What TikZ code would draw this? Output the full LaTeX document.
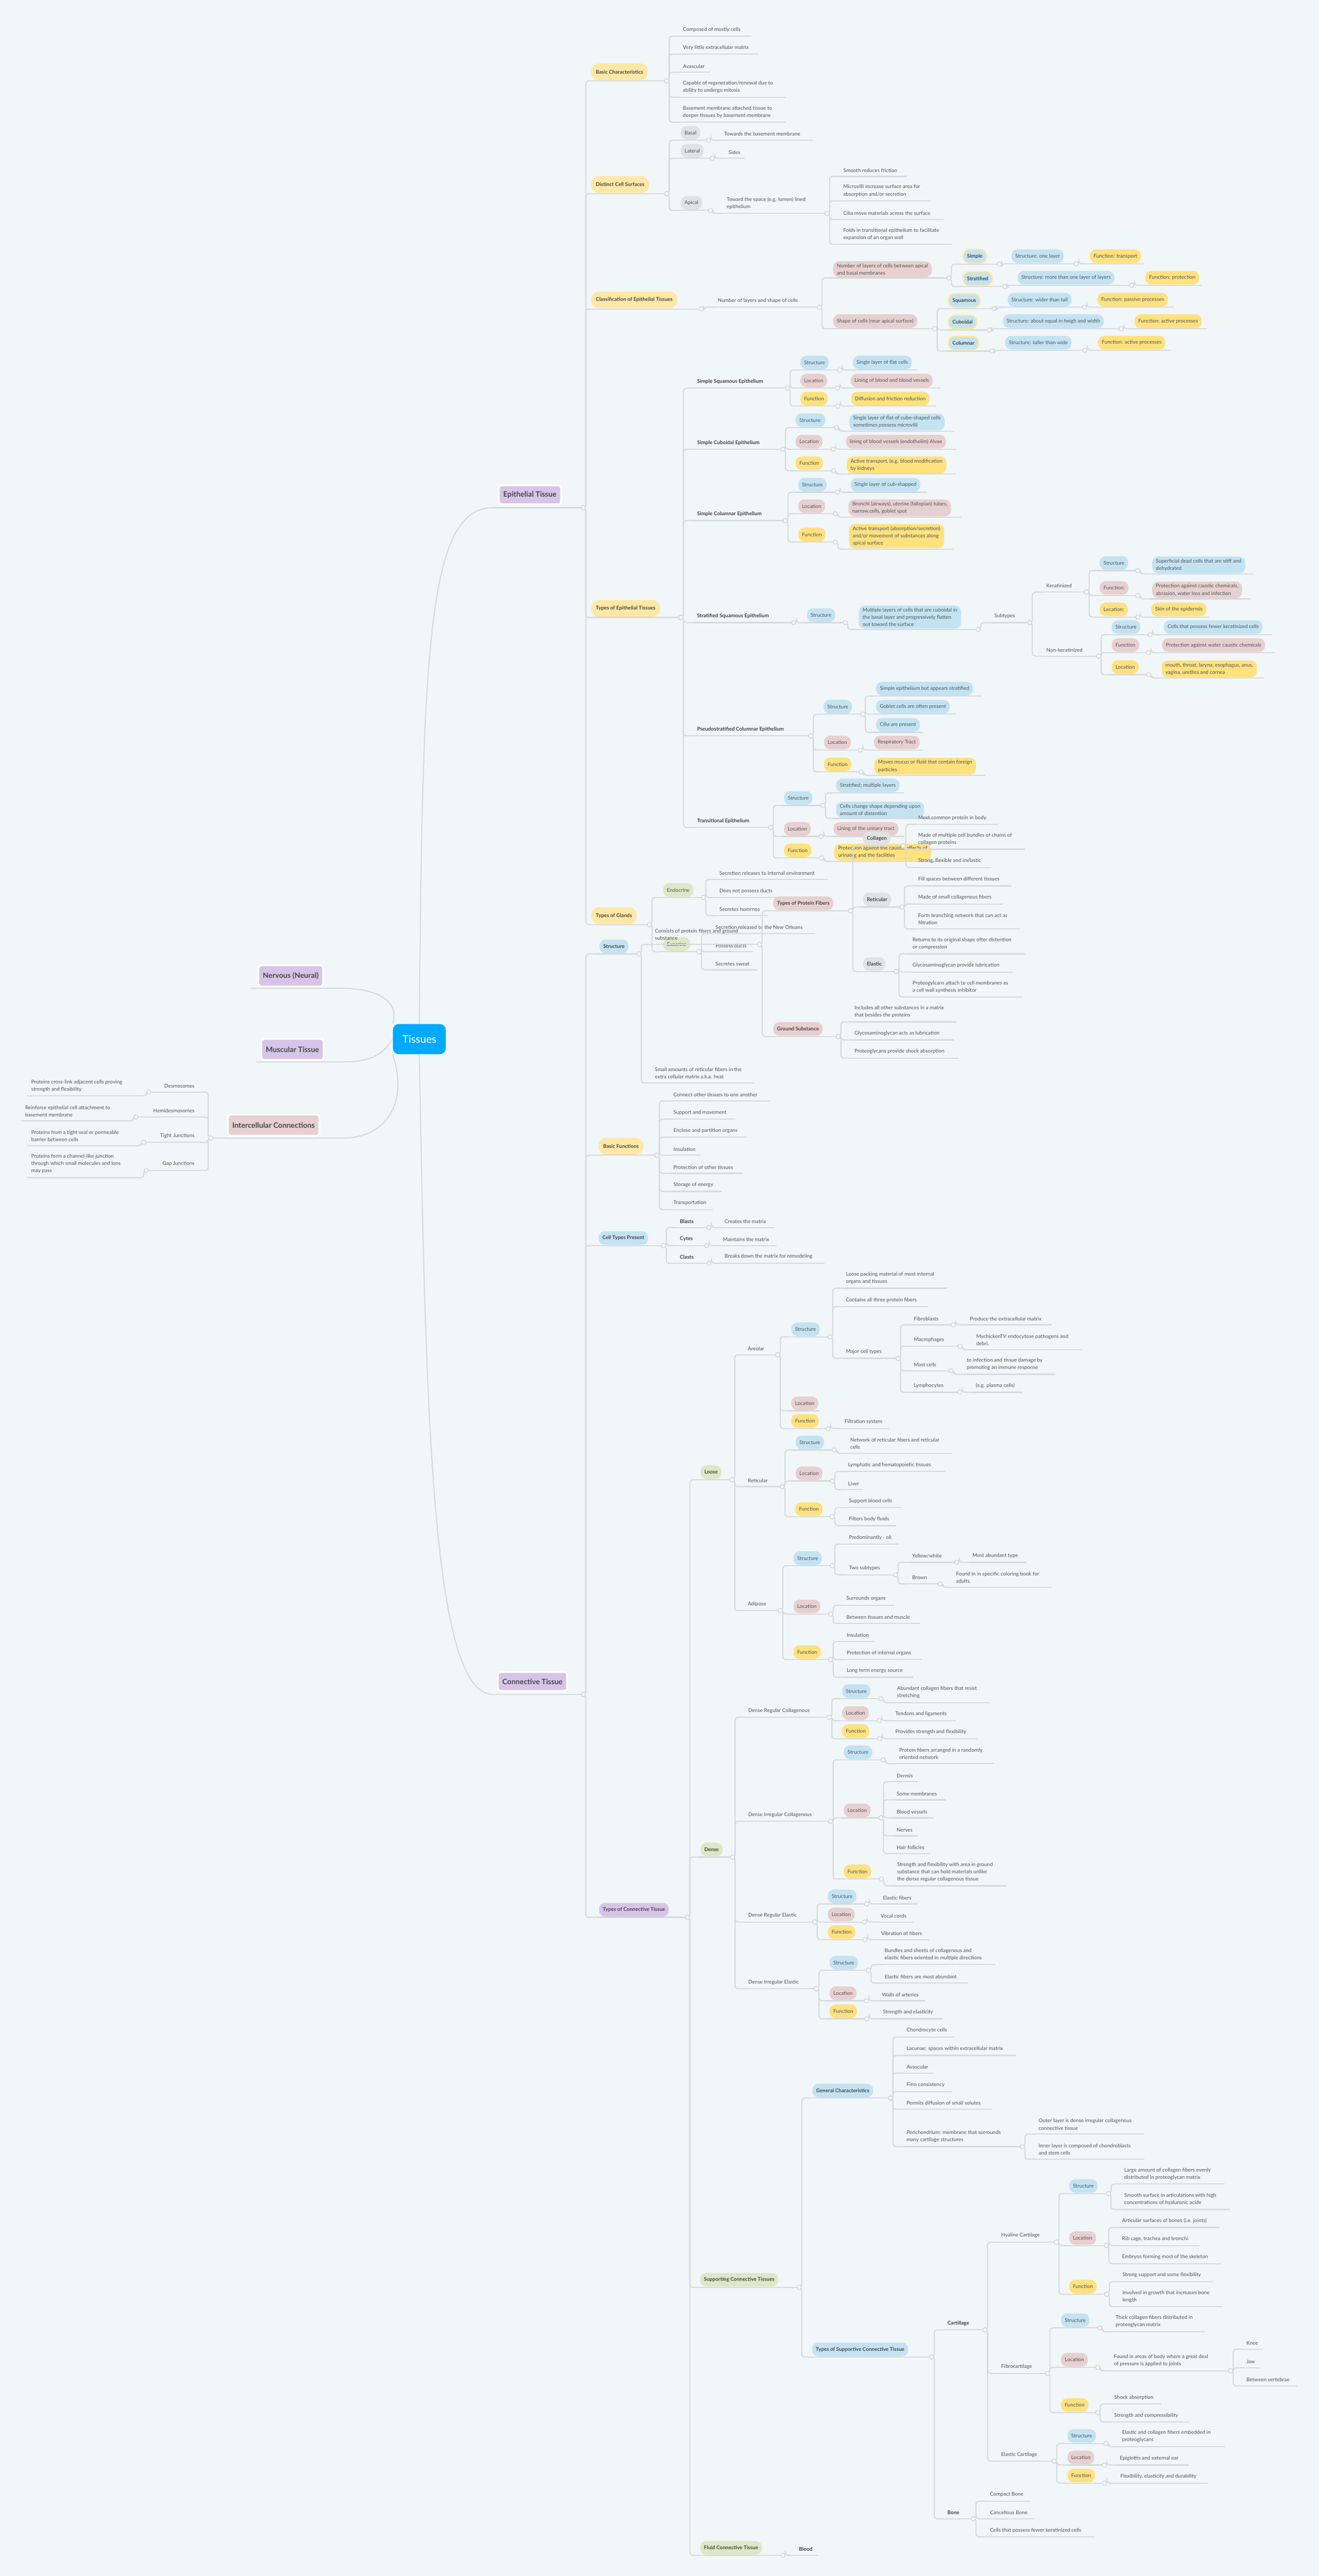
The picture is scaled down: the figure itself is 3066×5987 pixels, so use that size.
\documentclass[tikz,border=0pt]{standalone}
\usepackage{fontspec}
\setmainfont{Lato}
\definecolor{bgc}{HTML}{F1F6F9}
\definecolor{lc}{HTML}{D6DADD}
\definecolor{txc}{HTML}{50555A}
\definecolor{cblue}{HTML}{C4E3F2}
\definecolor{cpink}{HTML}{E8D0D0}
\definecolor{cyel}{HTML}{FFE17E}
\definecolor{ccat}{HTML}{FFE8A6}
\definecolor{cgray}{HTML}{DFE3E6}
\definecolor{cgreen}{HTML}{DCE8C6}
\definecolor{clav}{HTML}{D7C4E8}
\definecolor{cring}{HTML}{FFE89A}
\definecolor{ctis}{HTML}{00AAFF}
\tikzset{
 tx/.style={align=left,text=txc,font=\fontsize{3.4}{4.8}\selectfont,inner sep=0pt,yshift=2.6pt},
 tb/.style={tx,font=\fontsize{3.4}{4.8}\selectfont\bfseries,text=black!75},
 pill/.style={align=left,text=txc,font=\fontsize{3.4}{4.8}\selectfont,inner xsep=2.5pt,inner ysep=1.6pt,minimum height=9pt,rounded corners=4pt,yshift=0.3pt},
 pb/.style={pill,fill=cblue}, pp/.style={pill,fill=cpink}, py/.style={pill,fill=cyel},
 pg/.style={pill,fill=cgray}, pgr/.style={pill,fill=cgreen},
 pbold/.style={font=\fontsize{3.4}{4.8}\selectfont\bfseries,text=black!72},
 pbb/.style={pb,pbold}, ppb/.style={pp,pbold}, pgb/.style={pg,pbold}, pgrb/.style={pgr,pbold},
 pbs/.style={pb,pbold,draw=cring,line width=0.9pt},
 pyc/.style={pill,pbold,fill=ccat,minimum height=11pt,rounded corners=5pt,inner xsep=3pt},
 plb/.style={pill,pbold,fill=clav},
 big/.style={fill=clav,draw=white,line width=1.2pt,rounded corners=2pt,font=\fontsize{4.9}{6}\selectfont\bfseries,text=black!72,inner xsep=3pt,minimum height=12.5pt},
 uline/.style={draw=lc,line width=0.75pt},
 conn/.style={draw=lc,line width=0.75pt,rounded corners=2pt},
 dotst/.style={circle,inner sep=0pt,minimum size=2.8pt,fill=white,draw=lc,line width=0.6pt}
}
\newcommand\nd[7]{%
 \coordinate (#1-s) at (#3-6,#4);
 \coordinate (#1-e) at (#5,#4);
 \draw[uline] (#1-s) -- (#1-e);
 \node[#2,anchor=south west] (#1) at (#3,#4) {#6};
 \ifx\relax#7\relax\else \draw[conn] (#7-e) -- ++(6,0) |- (#1-s); \node[dotst] at (#7-e) {};\fi}
\newcommand\lnd[7]{%
 \node[tx,anchor=south east] (#1) at (453,#2) {#4};
 \coordinate (#1-s) at (466,#2); \coordinate (#1-e) at (#3,#2);
 \draw[uline] (#1-e) -- (#1-s);
 \draw[conn] (ic-e) -- ++(-6,0) |- (#1-s);
 \node[tx,anchor=south west] (#1x) at (#7,#5) {#6};
 \draw[conn] (#1-e) -- ++(-6,0) |- (310,#5) -- (#7-9,#5);
 \node[dotst] at (#1-e) {};}
\begin{document}
\begin{tikzpicture}[x=0.1mm,y=-0.1mm]
\fill[bgc] (0,0) rectangle (3066,5987);
\useasboundingbox (0,0) rectangle (3066,5987);
% ---- roots
\node[fill=ctis,rounded corners=4pt,minimum width=35pt,minimum height=20pt,text=white,font=\fontsize{7}{8}\selectfont] (tis) at (975,2415) {Tissues};
\node[big] (epi) at (1232,1150) {Epithelial Tissue};
\coordinate (epi-s) at (1146,1180); \coordinate (epi-e) at (1356,1180);
\draw[uline] (epi-s) -- (epi-e);
\node[big] (cnt) at (1238,3908) {Connective Tissue};
\coordinate (cnt-s) at (1146,3938); \coordinate (cnt-e) at (1356,3938);
\draw[uline] (cnt-s) -- (cnt-e);
\draw[conn] (tis.north) .. controls (982,1500) and (995,1180) .. (epi-s);
\draw[conn] (tis.south) .. controls (990,3300) and (1005,3938) .. (cnt-s);
\node[big,minimum height=14pt] (nv) at (676,2268) {Nervous (Neural)};
\node[big,minimum height=14pt] (mu) at (680,2439) {Muscular Tissue};
\node[big,minimum height=14pt,fill=cpink] (ic) at (636,2615) {Intercellular Connections};
\coordinate (nv-s) at (583,2297); \coordinate (mu-s) at (595,2468); \coordinate (ic-e) at (490,2645);
\draw[conn] (nv-s) -- (790,2297) .. controls (880,2297) and (930,2330) .. (tis.north west);
\draw[conn] (mu-s) -- (790,2468) .. controls (860,2468) and (890,2452) .. (tis.west);
\draw[conn] (ic-e) -- (790,2645) .. controls (900,2645) and (950,2560) .. (tis.south west);
\lnd{dsm}{2538}{346}{Desmosomes}{2547}{Proteins cross-link adjacent cells proving\\strength and flexibility}{72}
\lnd{hds}{2596}{316}{Hemidesmosomes}{2605}{Reinforce epithelial cell attachment to\\basement membrane}{58}
\lnd{tj}{2655}{334}{Tight Junctions}{2663}{Proteins from a tight seal or permeable\\barrier between cells}{72}
\lnd{gj}{2720}{340}{Gap Junctions}{2737}{Proteins form a channel-like junction\\through which small molecules and ions\\may pass}{72}
\node[dotst] at (ic-e) {};
% ---- Epithelial
\nd{bc}{pyc}{1374}{188}{1550}{Basic Characteristics}{epi}
\nd{bc1}{tx}{1587}{84}{1747}{Composed of mostly cells}{bc}
\nd{bc2}{tx}{1587}{126}{1764}{Very little extracellular matrix}{bc}
\nd{bc3}{tx}{1587}{168}{1652}{Avascular}{bc}
\nd{bc4}{tx}{1587}{226}{1827}{Capable of regeneration/renewal due to\\ability to undergo mitosis}{bc}
\nd{bc5}{tx}{1587}{284}{1827}{Basement membrane attached tissue to\\deeper tissues by basement membrane}{bc}
\nd{dc}{pyc}{1374}{450}{1550}{Distinct Cell Surfaces}{epi}
\nd{dc1}{pg}{1582}{326}{1647}{Basal}{dc}
\nd{dc1a}{tx}{1683}{326}{1889}{Towards the basement membrane}{dc1}
\nd{dc2}{pg}{1582}{368}{1656}{Lateral}{dc}
\nd{dc2a}{tx}{1693}{368}{1731}{Sides}{dc2}
\nd{dc3}{pg}{1582}{489}{1652}{Apical}{dc}
\nd{dc3a}{tx}{1689}{496}{1923}{Toward the space (e.g. lumen) lined\\epithelium}{dc3}
\nd{dc3a1}{tx}{1960}{410}{2109}{Smooth reduces friction}{dc3a}
\nd{dc3a2}{tx}{1960}{467}{2165}{Microvilli increase surface area for\\absorption and/or secretion}{dc3a}
\nd{dc3a3}{tx}{1960}{510}{2194}{Cilia move materials across the surface}{dc3a}
\nd{dc3a4}{tx}{1960}{568}{2213}{Folds in transitional epithelium to facilitate\\expansion of an organ wall}{dc3a}
\nd{ce}{pyc}{1374}{718}{1630}{Classification of Epithelial Tissues}{epi}
\nd{ce1}{tx}{1668}{714}{1905}{Number of layers and shape of cells}{ce}
\nd{ce1a}{pp}{1936}{646}{2206}{Number of layers of cells between apical\\and basal membranes}{ce1}
\nd{ce1a1}{pbs}{2238}{614}{2323}{Simple}{ce1a}
\nd{ce1a1a}{pb}{2351}{613}{2502}{Structure: one layer}{ce1a1}
\nd{ce1a1b}{py}{2533}{613}{2660}{Function: transport}{ce1a1a}
\nd{ce1a2}{pbs}{2238}{666}{2336}{Stratified}{ce1a}
\nd{ce1a2a}{pb}{2365}{663}{2631}{Structure: more than one layer of layers}{ce1a2}
\nd{ce1a2b}{py}{2662}{663}{2794}{Function: protection}{ce1a2a}
\nd{ce1b}{pp}{1936}{764}{2173}{Shape of cells (near apical surface)}{ce1}
\nd{ce1b1}{pbs}{2204}{717}{2311}{Squamous}{ce1b}
\nd{ce1b1a}{pb}{2342}{714}{2521}{Structure: wider than tall}{ce1b1}
\nd{ce1b1b}{py}{2551}{714}{2730}{Function: passive processes}{ce1b1a}
\nd{ce1b2}{pbs}{2204}{767}{2300}{Cuboidal}{ce1b}
\nd{ce1b2a}{pb}{2331}{764}{2607}{Structure: about equal in heigh and width}{ce1b2}
\nd{ce1b2b}{py}{2637}{764}{2807}{Function: active processes}{ce1b2a}
\nd{ce1b3}{pbs}{2204}{816}{2306}{Columnar}{ce1b}
\nd{ce1b3a}{pb}{2336}{814}{2522}{Structure: taller than wide}{ce1b3}
\nd{ce1b3b}{py}{2552}{814}{2723}{Function: active processes}{ce1b3a}
\nd{te}{pyc}{1374}{1435}{1583}{Types of Epithelial Tissues}{epi}
\nd{sq}{tb}{1620}{902}{1831}{Simple Squamous Epithelium}{te}
\nd{sqa}{pb}{1860}{860}{1952}{Structure}{sq}
\nd{sqa1}{pb}{1982}{860}{2131}{Single layer of flat cells}{sqa}
\nd{sqb}{pp}{1860}{902}{1947}{Location}{sq}
\nd{sqb1}{pp}{1977}{902}{2187}{Lining of blood and blood vessels}{sqb}
\nd{sqc}{py}{1860}{944}{1948}{Function}{sq}
\nd{sqc1}{py}{1978}{944}{2177}{Diffusion and friction reduction}{sqc}
\nd{cu}{tb}{1620}{1044}{1820}{Simple Cuboidal Epithelium}{te}
\nd{cua}{pb}{1849}{994}{1945}{Structure:}{cu}
\nd{cua1}{pb}{1974}{1002}{2219}{Single layer of flat of cube-shaped cells\\sometimes possess microvilli}{cua}
\nd{cub}{pp}{1849}{1044}{1937}{Location}{cu}
\nd{cub1}{pp}{1966}{1044}{2224}{lining of blood vessels (endothelim) Alvae}{cub}
\nd{cuc}{py}{1849}{1094}{1938}{Function}{cu}
\nd{cuc1}{py}{1968}{1102}{2222}{Active transport, (e.g. blood modification\\by kidneys}{cuc}
\nd{co}{tb}{1620}{1210}{1826}{Simple Columnar Epithelium}{te}
\nd{coa}{pb}{1855}{1144}{1947}{Structure}{co}
\nd{coa1}{pb}{1977}{1144}{2155}{Single layer of cub-shapped}{coa}
\nd{cob}{pp}{1855}{1194}{1942}{Location}{co}
\nd{cob1}{pp}{1972}{1202}{2236}{Bronchi (airways), uterine (fallopian) tubes,\\narrow.cells, goblet spot}{cob}
\nd{coc}{py}{1855}{1260}{1942}{Function}{co}
\nd{coc1}{py}{1973}{1276}{2217}{Active transport (absorption/secretion)\\and/or movement of substances along\\apical surface}{coc}
\nd{ss}{tb}{1620}{1447}{1845}{Stratified Squamous Epithelium}{te}
\nd{ssa}{pb}{1875}{1447}{1965}{Structure}{ss}
\nd{ssa1}{pb}{1996}{1463}{2274}{Multiple layers of cells that are cuboidal in\\the basal layer and progressively flatten\\out toward the surface}{ssa}
\nd{ssb}{tx}{2311}{1447}{2394}{Subtypes}{ssa1}
\nd{kr}{tx}{2432}{1376}{2526}{Keratinized}{ssb}
\nd{kra}{pb}{2556}{1326}{2645}{Structure}{kr}
\nd{kra1}{pb}{2678}{1334}{2915}{Superficial dead cells that are stiff and\\dehydrated}{kra}
\nd{krb}{pp}{2556}{1384}{2645}{Function:}{kr}
\nd{krb1}{pp}{2678}{1392}{2907}{Protection against caustic chemicals,\\abrasion, water loss and infection}{krb}
\nd{krc}{py}{2556}{1434}{2645}{Location:}{kr}
\nd{krc1}{py}{2676}{1434}{2813}{Skin of the epidermis}{krc}
\nd{nk}{tx}{2432}{1525}{2554}{Non-keratinized}{ssb}
\nd{nka}{pb}{2584}{1475}{2674}{Structure}{nk}
\nd{nka1}{pb}{2705}{1475}{2957}{Cells that possess fewer keratinized cells}{nka}
\nd{nkb}{pp}{2584}{1517}{2670}{Function}{nk}
\nd{nkb1}{pp}{2701}{1517}{2965}{Protection against water caustic chemicals}{nkb}
\nd{nkc}{py}{2584}{1568}{2671}{Location}{nk}
\nd{nkc1}{py}{2700}{1576}{2940}{mouth, throat, larynx, esophagus, anus,\\vagina, urethra and cornea}{nkc}
\nd{ps}{tb}{1620}{1710}{1885}{Pseudostratified Columnar Epithelium}{te}
\nd{psa}{pb}{1914}{1660}{2006}{Structure}{ps}
\nd{psa1}{pb}{2036}{1618}{2284}{Simple epithelium but appears stratified}{psa}
\nd{psa2}{pb}{2036}{1660}{2223}{Goblet cells are often present}{psa}
\nd{psa3}{pb}{2036}{1702}{2146}{Cilia are present}{psa}
\nd{psb}{pp}{1915}{1743}{2000}{Location}{ps}
\nd{psb1}{pp}{2031}{1743}{2146}{Respiratory Tract}{psb}
\nd{psc}{py}{1915}{1794}{2002}{Function}{ps}
\nd{psc1}{py}{2032}{1802}{2290}{Moves mucus or fluid that contain foreign\\particles}{psc}
\nd{tr}{tb}{1620}{1923}{1792}{Transitional Epithelium}{te}
\nd{tra}{pb}{1822}{1872}{1913}{Structure}{tr}
\nd{tra1}{pb}{1943}{1843}{2103}{Stratified; multiple layers}{tra}
\nd{tra2}{pb}{1943}{1902}{2169}{Cells change shape depending upon\\amount of distention}{tra}
\nd{trb}{pp}{1822}{1944}{1909}{Location}{tr}
\nd{trb1}{pp}{1937}{1944}{2101}{Lining of the urinary tract}{trb}
\nd{trc}{py}{1822}{1994}{1910}{Function}{tr}
\nd{trc1}{py}{1939}{2002}{2189}{Protection against the caustic effects of\\urinateg and the facilities}{trc}
\nd{tg}{pyc}{1374}{2149}{1510}{Types of Glands}{epi}
\nd{en}{pgr}{1541}{2086}{1635}{Endocrine}{tg}
\nd{en1}{tx}{1672}{2044}{1924}{Secretion releases to internal environment}{en}
\nd{en2}{tx}{1672}{2086}{1847}{Does not possess ducts}{en}
\nd{en3}{tx}{1672}{2128}{1785}{Secretes homrnos}{en}
\nd{ex}{pgr}{1541}{2212}{1625}{Exocrine}{tg}
\nd{ex1}{tx}{1663}{2170}{1895}{Secretion released to the New Orleans}{ex}
\nd{ex2}{tx}{1663}{2212}{1752}{Possess ducts}{ex}
\nd{ex3}{tx}{1663}{2254}{1761}{Secretes sweat}{ex}
% ---- Connective
\nd{cs}{pbb}{1393}{2217}{1485}{Structure}{cnt}
\nd{cs1}{tx}{1522}{2195}{1766}{Consists of protein fibers and ground\\substance}{cs}
\nd{pf}{ppb}{1797}{2117}{1977}{Types of Protein Fibers}{cs1}
\nd{col}{pgb}{2006}{1966}{2100}{Collagen}{pf}
\nd{col1}{tx}{2134}{1916}{2321}{Most common protein in body.}{col}
\nd{col2}{tx}{2134}{1974}{2383}{Made of multiple cell bundles of chains of\\collagen proteins}{col}
\nd{col3}{tx}{2134}{2016}{2305}{Strong, flexible and inelastic}{col}
\nd{ret}{pgb}{2006}{2108}{2097}{Reticular}{pf}
\nd{ret1}{tx}{2134}{2059}{2352}{Fill spaces between different tissues}{ret}
\nd{ret2}{tx}{2134}{2101}{2331}{Made of small collagenous fibers}{ret}
\nd{ret3}{tx}{2134}{2159}{2372}{Form branching network that can act as\\filtration}{ret}
\nd{ela}{pgb}{2006}{2258}{2084}{Elastic}{pf}
\nd{ela1}{tx}{2121}{2217}{2383}{Returns to its original shape ofter distention\\or compression}{ela}
\nd{ela2}{tx}{2121}{2259}{2354}{Glycosaminoglycan provide lubrication}{ela}
\nd{ela3}{tx}{2121}{2317}{2378}{Proteogylcans attach to cell membranes as\\a cell wall synthesis inhibitor}{ela}
\nd{gs}{ppb}{1797}{2409}{1949}{Ground Substance}{cs1}
\nd{gs1}{tx}{1986}{2375}{2224}{Includes all other substances in a matrix\\that besides the proteins}{gs}
\nd{gs2}{tx}{1986}{2417}{2217}{Glycosaminoglycan acts as lubrication}{gs}
\nd{gs3}{tx}{1986}{2459}{2228}{Proteoglycans provide shock absorption}{gs}
\nd{cs2}{tx}{1522}{2517}{1753}{Small amounts of reticular fibers in the\\extra cellular matrix a.k.a. heat}{cs}
\nd{bf}{pyc}{1391}{2685}{1527}{Basic Functions}{cnt}
\nd{bf1}{tx}{1565}{2559}{1790}{Connect other tissues to one another}{bf}
\nd{bf2}{tx}{1565}{2601}{1710}{Support and movement}{bf}
\nd{bf3}{tx}{1565}{2643}{1738}{Enclose and partition organs}{bf}
\nd{bf4}{tx}{1565}{2685}{1629}{Insulation}{bf}
\nd{bf5}{tx}{1565}{2727}{1728}{Protection of other tissues}{bf}
\nd{bf6}{tx}{1565}{2769}{1678}{Storage of energy}{bf}
\nd{bf7}{tx}{1565}{2811}{1657}{Transportation}{bf}
\nd{cty}{pbb}{1391}{2895}{1543}{Cell Types Present}{cnt}
\nd{cty1}{tb}{1580}{2853}{1648}{Blasts}{cty}
\nd{cty1a}{tx}{1684}{2853}{1800}{Creates the matrix}{cty1}
\nd{cty2}{tb}{1580}{2895}{1643}{Cytes}{cty}
\nd{cty2a}{tx}{1680}{2895}{1806}{Maintains the matrix}{cty2}
\nd{cty3}{tb}{1580}{2936}{1648}{Clasts}{cty}
\nd{cty3a}{tx}{1684}{2936}{1917}{Breaks down the matrix for remodeling}{cty3}
\nd{tct}{plb}{1392}{4456}{1598}{Types of Connective Tissue}{cnt}
\nd{lo}{pgrb}{1628}{3439}{1702}{Loose}{tct}
\nd{ar}{tx}{1738}{3149}{1808}{Areolar}{lo}
\nd{ara}{pb}{1839}{3107}{1930}{Structure}{ar}
\nd{ara1}{tx}{1966}{2994}{2202}{Loose packing material of most internal\\organs and tissues}{ara}
\nd{ara2}{tx}{1966}{3037}{2158}{Contains all three protein fibers}{ara}
\nd{ara3}{tx}{1966}{3157}{2088}{Major cell types}{ara}
\nd{mc1}{tx}{2124}{3079}{2216}{Fibroblasts}{ara3}
\nd{mc1a}{tx}{2254}{3079}{2445}{Produce the extracellular matrix}{mc1}
\nd{mc2}{tx}{2124}{3129}{2232}{Macrophages}{ara3}
\nd{mc2a}{tx}{2269}{3137}{2518}{MychickenTV endocytose pathogens and\\debri.}{mc2}
\nd{mc3}{tx}{2124}{3186}{2211}{Mast cells}{ara3}
\nd{mc3a}{tx}{2247}{3194}{2453}{to infection and tissue damage by\\promoting an immune response}{mc3}
\nd{mc4}{tx}{2124}{3236}{2231}{Lymphocytes}{ara3}
\nd{mc4a}{tx}{2268}{3236}{2378}{(e.g. plasma cells)}{mc4}
\nd{arb}{pp}{1839}{3279}{1905}{Location}{ar}
\nd{arc}{py}{1839}{3320}{1925}{Function}{ar}
\nd{arc1}{tx}{1963}{3320}{2067}{Filtration system}{arc}
\nd{rt}{tx}{1738}{3455}{1819}{Reticular}{lo}
\nd{rta}{pb}{1849}{3370}{1940}{Structure}{rt}
\nd{rta1}{tx}{1976}{3378}{2214}{Network of reticular fibers and reticular\\cells}{rta}
\nd{rtb}{pp}{1849}{3442}{1935}{Location}{rt}
\nd{rtb1}{tx}{1971}{3420}{2197}{Lymphatic and hematopoietic tissues}{rtb}
\nd{rtb2}{tx}{1971}{3462}{2007}{Liver}{rtb}
\nd{rtc}{py}{1848}{3525}{1935}{Function}{rt}
\nd{rtc1}{tx}{1973}{3504}{2094}{Support blood cells}{rtc}
\nd{rtc2}{tx}{1973}{3546}{2084}{Filters body fluids}{rtc}
\nd{ad}{tx}{1738}{3743}{1814}{Adipose}{lo}
\nd{ada}{pb}{1844}{3639}{1935}{Structure}{ad}
\nd{ada1}{tx}{1973}{3589}{2090}{Predominantly - ok}{ada}
\nd{ada2}{tx}{1973}{3660}{2082}{Two subtypes}{ada}
\nd{yw}{tx}{2120}{3631}{2224}{Yellow/white}{ada2}
\nd{yw1}{tx}{2260}{3631}{2386}{Most abundant type}{yw}
\nd{br}{tx}{2120}{3681}{2186}{Brown}{ada2}
\nd{br1}{tx}{2222}{3689}{2446}{Found in in specific coloring book for\\adults.}{br}
\nd{adb}{pp}{1844}{3751}{1931}{Location}{ad}
\nd{adb1}{tx}{1967}{3731}{2079}{Surrounds organs}{adb}
\nd{adb2}{tx}{1967}{3773}{2140}{Between tissues and muscle}{adb}
\nd{adc}{py}{1844}{3857}{1931}{Function}{ad}
\nd{adc1}{tx}{1968}{3815}{2033}{Insulation}{adc}
\nd{adc2}{tx}{1968}{3857}{2143}{Protection of internal organs}{adc}
\nd{adc3}{tx}{1968}{3898}{2123}{Long term energy source}{adc}
\nd{de}{pgrb}{1628}{4316}{1703}{Dense}{tct}
\nd{drc}{tx}{1739}{3991}{1928}{Dense Regular Collagenous}{de}
\nd{drca}{pb}{1957}{3948}{2048}{Structure}{drc}
\nd{drca1}{tx}{2085}{3957}{2301}{Abundant collagen fibers that resist\\stretching}{drca}
\nd{drcb}{pp}{1957}{3999}{2044}{Location}{drc}
\nd{drcb1}{tx}{2081}{3999}{2222}{Tendons and ligaments}{drcb}
\nd{drcc}{py}{1957}{4041}{2045}{Function}{drc}
\nd{drcc1}{tx}{2081}{4041}{2272}{Provides strength and flexibility}{drcc}
\nd{dic}{tx}{1739}{4233}{1931}{Dense Irregular Collagenous}{de}
\nd{dica}{pb}{1961}{4090}{2053}{Structure}{dic}
\nd{dica1}{tx}{2090}{4099}{2311}{Protein fibers arranged in a randomly\\oriented network}{dica}
\nd{dicb}{pp}{1961}{4225}{2048}{Location}{dic}
\nd{dicb1}{tx}{2084}{4141}{2133}{Dermis}{dicb}
\nd{dicb2}{tx}{2084}{4183}{2198}{Some membranes}{dicb}
\nd{dicb3}{tx}{2084}{4225}{2171}{Blood vessels}{dicb}
\nd{dicb4}{tx}{2084}{4267}{2134}{Nerves}{dicb}
\nd{dicb5}{tx}{2084}{4308}{2164}{Hair follicles}{dicb}
\nd{dicc}{py}{1961}{4367}{2049}{Function}{dic}
\nd{dicc1}{tx}{2085}{4383}{2340}{Strength and flexibility with area in ground\\substance that can hold materials unlike\\the dense regular collagenous tissue}{dicc}
\nd{dre}{tx}{1739}{4467}{1894}{Dense Regular Elastic}{de}
\nd{drea}{pb}{1924}{4425}{2015}{Structure}{dre}
\nd{drea1}{tx}{2052}{4425}{2134}{Elastic fibers}{drea}
\nd{dreb}{pp}{1924}{4467}{2010}{Location}{dre}
\nd{dreb1}{tx}{2047}{4467}{2123}{Vocal cords}{dreb}
\nd{drec}{py}{1924}{4508}{2011}{Function}{dre}
\nd{drec1}{tx}{2048}{4508}{2161}{Vibration of fibers}{drec}
\nd{die}{tx}{1739}{4622}{1898}{Dense Irregular Elastic}{de}
\nd{diea}{pb}{1928}{4579}{2019}{Structure}{die}
\nd{diea1}{tx}{2056}{4566}{2314}{Bundles and sheets of collagenous and\\elastic fibers oriented in multiple directions}{diea}
\nd{diea2}{tx}{2056}{4609}{2251}{Elastic fibers are most abundant}{diea}
\nd{dieb}{pp}{1928}{4650}{2014}{Location}{die}
\nd{dieb1}{tx}{2050}{4650}{2151}{Walls of arteries}{dieb}
\nd{diec}{py}{1928}{4692}{2015}{Function}{die}
\nd{diec1}{tx}{2052}{4692}{2192}{Strength and elasticity}{diec}
\nd{sct}{pgrb}{1627}{5316}{1858}{Supporting Connective Tissues}{tct}
\nd{gc}{pbb}{1888}{4876}{2070}{General Characteristics}{sct}
\nd{gc1}{tx}{2107}{4734}{2220}{Chondrocyte cells}{gc}
\nd{gc2}{tx}{2107}{4777}{2362}{Lacunae: spaces within extracellular matrix}{gc}
\nd{gc3}{tx}{2107}{4818}{2171}{Avascular}{gc}
\nd{gc4}{tx}{2107}{4861}{2213}{Firm consistency}{gc}
\nd{gc5}{tx}{2107}{4902}{2306}{Permits diffusion of small solutes}{gc}
\nd{gc6}{tx}{2107}{4989}{2377}{Perichondrium: membrane that surrounds\\many cartilage structures}{gc}
\nd{gc6a}{tx}{2414}{4960}{2661}{Outer layer is dense irregular collagenous\\connective tissue}{gc6}
\nd{gc6b}{tx}{2414}{5018}{2661}{Inner layer is composed of chondroblasts\\and stem cells}{gc6}
\nd{ts}{pbb}{1887}{5478}{2166}{Types of Supportive Connective Tissue}{sct}
\nd{ca}{tb}{2202}{5415}{2290}{Cartillage}{ts}
\nd{hy}{tx}{2327}{5211}{2456}{Hyaline Cartilage}{ca}
\nd{hya}{pb}{2485}{5098}{2577}{Structure}{hy}
\nd{hya1}{tx}{2613}{5076}{2847}{Large amount of collagen fibers evenly\\distributed in proteoglycan matrix}{hya}
\nd{hya2}{tx}{2613}{5135}{2859}{Smooth surface in articulations with high\\concentrations of hyaluronic acide}{hya}
\nd{hyb}{pp}{2485}{5219}{2572}{Location}{hy}
\nd{hyb1}{tx}{2608}{5177}{2836}{Articular surfaces of bones (i.e. joints)}{hyb}
\nd{hyb2}{tx}{2608}{5219}{2789}{Rib cage, trachea and bronchi}{hyb}
\nd{hyb3}{tx}{2608}{5261}{2839}{Embryos forming most of the skeleton}{hyb}
\nd{hyc}{py}{2485}{5332}{2573}{Function}{hy}
\nd{hyc1}{tx}{2609}{5303}{2821}{Strong support and some flexibility}{hyc}
\nd{hyc2}{tx}{2609}{5361}{2843}{Involved in growth that increases bone\\length}{hyc}
\nd{fi}{tx}{2327}{5516}{2435}{Fibrocartilage}{ca}
\nd{fia}{pb}{2466}{5410}{2557}{Structure}{fi}
\nd{fia1}{tx}{2593}{5419}{2801}{Thick collagen fibers distributed in\\proteoglycan matrix}{fia}
\nd{fib}{pp}{2466}{5502}{2552}{Location}{fi}
\nd{fib1}{tx}{2589}{5510}{2861}{Found in areas of body where a great deal\\of pressure is applied to joints}{fib}
\nd{fib1a}{tx}{2897}{5460}{2935}{Knee}{fib1}
\nd{fib1b}{tx}{2897}{5503}{2929}{Jaw}{fib1}
\nd{fib1c}{tx}{2897}{5545}{3016}{Between vertebrae}{fib1}
\nd{fic}{py}{2466}{5607}{2552}{Function}{fi}
\nd{fic1}{tx}{2590}{5587}{2700}{Shock absorption}{fic}
\nd{fic2}{tx}{2590}{5629}{2765}{Strength and compressibility}{fic}
\nd{el}{tx}{2327}{5720}{2451}{Elastic Cartilage}{ca}
\nd{elca}{pb}{2481}{5679}{2571}{Structure}{el}
\nd{elca1}{tx}{2608}{5686}{2847}{Elastic and collagen fibers embedded in\\proteoglycans}{elca}
\nd{elcb}{pp}{2481}{5729}{2567}{Location}{el}
\nd{elcb1}{tx}{2603}{5729}{2763}{Epiglottis and external ear}{elcb}
\nd{elcc}{py}{2481}{5771}{2568}{Function}{el}
\nd{elcc1}{tx}{2604}{5771}{2808}{Flexibility, elasticity and durability}{elcc}
\nd{bo}{tb}{2202}{5854}{2263}{Bone}{ts}
\nd{bo1}{tx}{2301}{5813}{2396}{Compact Bone}{bo}
\nd{bo2}{tx}{2301}{5854}{2406}{Cancellous Bone}{bo}
\nd{bo3}{tx}{2301}{5896}{2546}{Cells that possess fewer keratinized cells}{bo}
\nd{fl}{pgrb}{1627}{5939}{1820}{Fluid Connective Tissue}{tct}
\nd{bl}{tb}{1857}{5939}{1901}{Blood}{fl}
\end{tikzpicture}
\end{document}
